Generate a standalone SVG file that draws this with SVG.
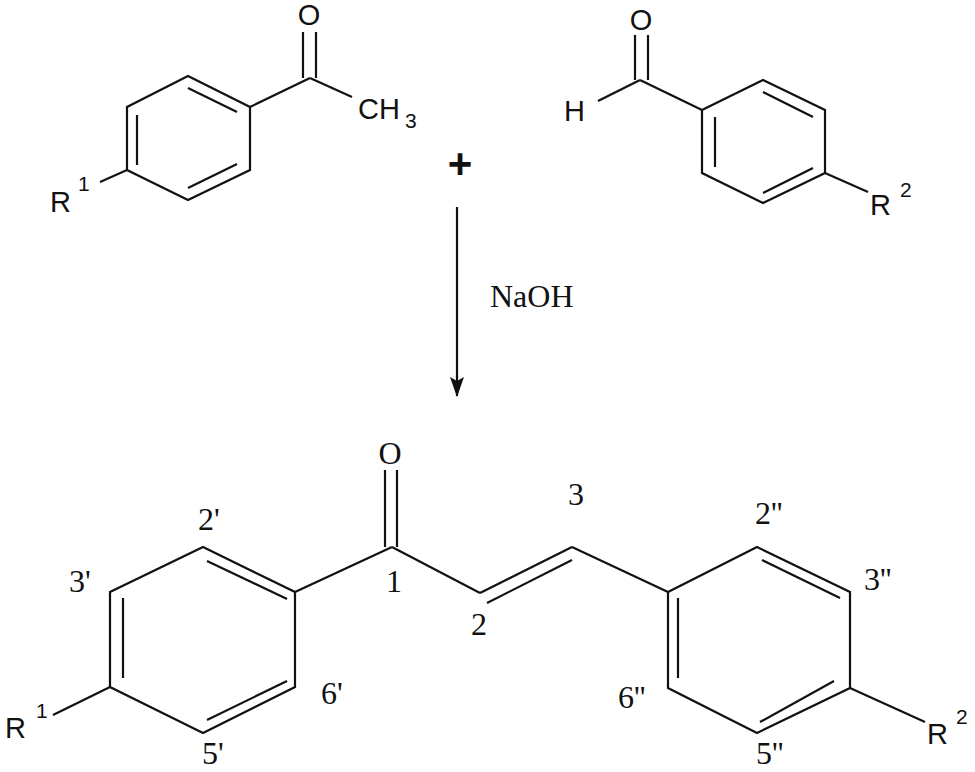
<svg xmlns="http://www.w3.org/2000/svg" width="975" height="772" viewBox="0 0 975 772">
<style>
line,polyline{stroke:#111;stroke-width:2.2;fill:none}
.ring{fill:none;stroke:#111;stroke-width:2.2}
.s{font-family:"Liberation Sans",Arial,sans-serif;font-size:29px;fill:#111}
.sup{font-family:"Liberation Sans",Arial,sans-serif;font-size:21px;fill:#111}
.t{font-family:"Liberation Serif","Times New Roman",serif;font-size:32px;fill:#111}
</style>
<defs><marker id="ah" markerWidth="20" markerHeight="14" refX="19" refY="7" orient="auto" markerUnits="userSpaceOnUse"><path d="M0,0 L20,7 L0,14 L4,7 Z" fill="#111"/></marker></defs>
<rect width="975" height="772" fill="#fff"/>
<g id="acetophenone">
<polygon class="ring" points="188,76 250,107 250,170 188,200 127,170 127,107"/>
<line x1="188" y1="88" x2="237" y2="112"/><line x1="137" y1="115" x2="137" y2="165"/><line x1="188" y1="188" x2="237" y2="164"/>
<line x1="127" y1="170" x2="100" y2="182"/>
<line x1="250" y1="107" x2="310" y2="78"/><line x1="303" y1="32" x2="303" y2="78"/><line x1="316" y1="32" x2="316" y2="78"/>
<line x1="310" y1="78" x2="352" y2="97"/>
<text class="s" x="309" y="25" text-anchor="middle">O</text>
<text class="s" x="358" y="119">CH</text><text class="sup" x="405" y="128">3</text>
<text class="s" x="50" y="212">R</text><text class="sup" x="78" y="191">1</text>
</g>
<g id="plus"><text x="460" y="178" text-anchor="middle" style="font-family:'Liberation Sans',Arial,sans-serif;font-size:42px;font-weight:bold;fill:#111">+</text></g>
<g id="benzaldehyde">
<polygon class="ring" points="702,110 763,80 825,110 825,173 763,203 702,173"/>
<line x1="715" y1="117" x2="715" y2="167"/><line x1="763" y1="92" x2="813" y2="117"/><line x1="763" y1="193" x2="813" y2="168"/>
<line x1="702" y1="110" x2="640" y2="80"/><line x1="635" y1="35" x2="635" y2="80"/><line x1="648" y1="35" x2="648" y2="80"/>
<line x1="640" y1="80" x2="598" y2="101"/>
<text class="s" x="641" y="30" text-anchor="middle">O</text>
<text class="s" x="564" y="121">H</text>
<line x1="825" y1="173" x2="868" y2="192"/>
<text class="s" x="870" y="215">R</text><text class="sup" x="900" y="197">2</text>
</g>
<g id="connectors"><line x1="457" y1="207" x2="457" y2="396" marker-end="url(#ah)"/></g>
<g id="reagent"><text class="t" x="490" y="307">NaOH</text></g>
<g id="chalcone">
<polygon class="ring" points="203,547 295,592 295,687 203,733 110,687 110,592"/>
<line x1="207" y1="561" x2="287" y2="599"/><line x1="123" y1="598" x2="123" y2="678"/><line x1="207" y1="720" x2="287" y2="681"/>
<line x1="110" y1="687" x2="53" y2="715"/>
<line x1="295" y1="592" x2="392" y2="547"/><line x1="385" y1="470" x2="385" y2="547"/><line x1="397" y1="470" x2="397" y2="547"/>
<line x1="392" y1="547" x2="480" y2="593"/><line x1="480" y1="593" x2="572" y2="547"/><line x1="487" y1="603" x2="572" y2="560"/>
<line x1="572" y1="547" x2="668" y2="592"/>
<polygon class="ring" points="668,592 757,547 850,592 850,688 757,733 668,688"/>
<line x1="678" y1="598" x2="678" y2="678"/><line x1="762" y1="560" x2="840" y2="598"/><line x1="760" y1="722" x2="834" y2="681"/>
<line x1="850" y1="688" x2="925" y2="722"/>
<text class="t" x="390" y="464" text-anchor="middle">O</text>
<text class="s" x="5" y="738">R</text><text class="sup" x="36" y="718">1</text>
<text class="s" x="927" y="744">R</text><text class="sup" x="956" y="724">2</text>
<text class="t" x="198" y="530">2'</text>
<text class="t" x="69" y="592">3'</text>
<text class="t" x="386" y="592">1</text>
<text class="t" x="471" y="635">2</text>
<text class="t" x="321" y="704">6'</text>
<text class="t" x="202" y="764">5'</text>
<text class="t" x="568" y="505">3</text>
<text class="t" x="755" y="524">2''</text>
<text class="t" x="864" y="590">3''</text>
<text class="t" x="618" y="708">6''</text>
<text class="t" x="756" y="764">5''</text>
</g>
</svg>
